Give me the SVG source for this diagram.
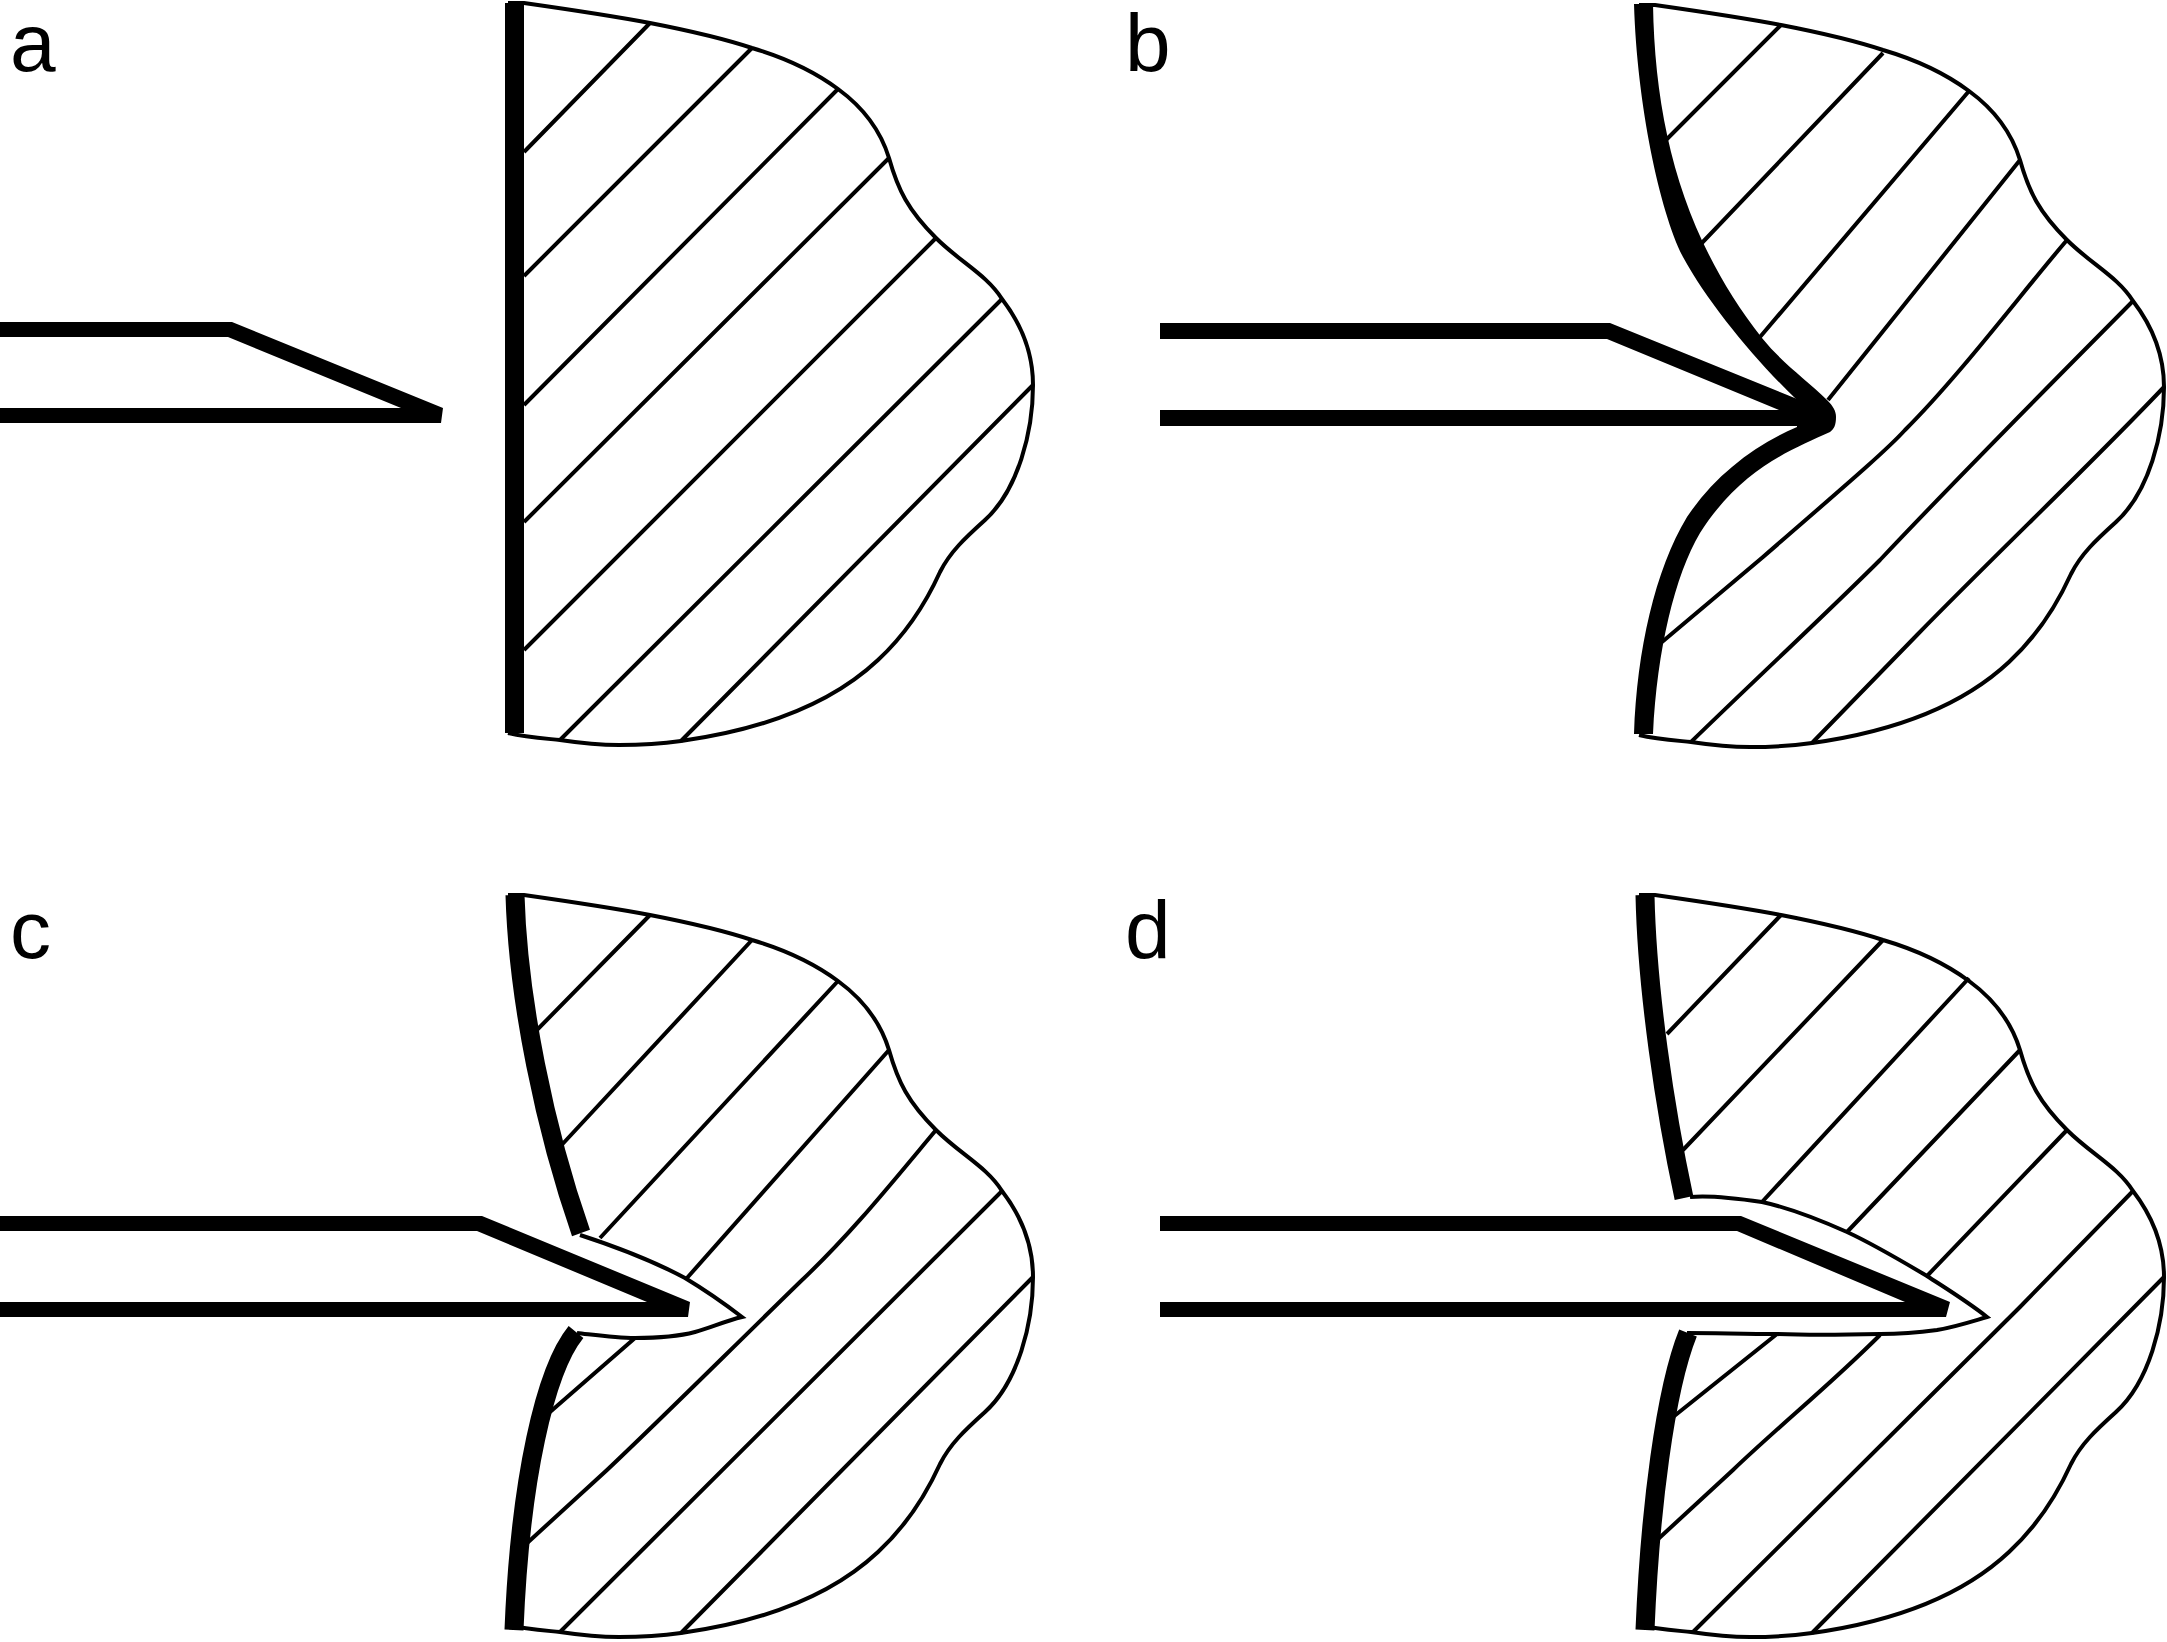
<svg xmlns="http://www.w3.org/2000/svg" width="2167" height="1642" viewBox="0 0 2167 1642">
<style>
.t{font-family:"Liberation Sans",Arial,sans-serif;font-size:82px;fill:#000}
.thin{fill:none;stroke:#000;stroke-width:4}
.wall{fill:none;stroke:#000;stroke-width:19}
.solid{fill:#000;stroke:none}
</style>
<defs>
<path id="outline" class="thin" d="M508,3 L524,3 C566,9 608,15 650,23 C686,30 722,38 752,48 C786,58 815,72 838,89 C864,108 881,132 889,158 C898,190 908,210 936,238 C960,262 987,275 1002,299 C1022,325 1033,355 1033,385 C1033,432 1018,490 985,520 C965,538 950,552 940,572 C925,605 905,635 878,660 C830,705 760,730 681,741 C660,744 640,745 619,745 C600,745 580,743 560,740 C540,738 525,737 508,733"/>
</defs>
<rect width="2167" height="1642" fill="#fff"/>
<g id="panel-a">
<text class="t" x="10" y="71">a</text>
<use href="#outline"/>
<rect class="solid" x="505" y="3" width="19" height="730"/>
<path class="thin" d="M524,152 L650,23 M524,276 L752,48 M524,405 L838,89 M524,522 L889,158 M524,650 L936,238 M560,740 L1002,299 M681,741 L1033,385"/>
<polygon class="solid" points="0,322 232,322 443,408 441,423 0,423 0,408 401,408 228,337 0,337"/>
</g>
<g id="panel-b">
<text class="t" x="1125" y="71">b</text>
<use href="#outline" transform="translate(1131,2)"/>
<path class="thin" d="M1665,141 L1781,25 M1699,246 L1883,53 M1760,337 L1969,91 M1828,400 L2020,160 M2067,240 C2020,295 1960,375 1905,430 C1885,452 1840,490 1763,557 L1662,642 M2133,301 C2040,395 1960,475 1880,560 C1830,610 1760,675 1691,742 M2164,387 C2090,465 2000,550 1917,635 L1812,743"/>
<path class="solid" d="M1653,4 C1655,130 1685,240 1762,338 C1784,365 1806,379 1827,400 C1833,406 1836,411 1836,417 C1836,425 1834,429 1830,432 C1790,450 1740,470 1700,533 C1675,575 1657,650 1653,734 L1634,734 C1637,650 1655,570 1687,517 C1715,475 1755,445 1797,427 L1797,400 C1755,360 1708,303 1683,257 C1660,212 1637,105 1634,4 Z"/>
<polygon class="solid" points="1160,323 1610,323 1812,405 1812,426 1160,426 1160,410 1779,410 1607,339 1160,339"/>
</g>
<g id="panel-c">
<text class="t" x="10" y="958">c</text>
<use href="#outline" transform="translate(0,892)"/>
<path class="wall" d="M515,895 C518,1000 545,1130 581,1233"/>
<path class="wall" d="M576,1332 C545,1370 520,1480 514,1630"/>
<path class="thin" d="M580,1235 C620,1248 655,1262 685,1278 C705,1290 725,1304 742,1317 C725,1321 710,1328 695,1332 C680,1336 660,1338 635,1338 C615,1338 595,1335 577,1333"/>
<path class="thin" d="M533,1034 L650,915 M557,1150 L752,940 M600,1238 L838,981 M687,1278 L889,1050 M550,1412 L635,1338 M936,1130 C890,1185 850,1235 800,1282 C720,1360 660,1420 607,1470 L525,1545 M1002,1191 L560,1632 M1033,1277 L681,1633"/>
<polygon class="solid" points="0,1216 482,1216 690,1302 688,1317 0,1317 0,1302 647,1302 477,1231 0,1231"/>
</g>
<g id="panel-d">
<text class="t" x="1125" y="958">d</text>
<use href="#outline" transform="translate(1131,892)"/>
<path class="wall" d="M1645,895 C1647,990 1665,1110 1684,1198"/>
<path class="wall" d="M1688,1333 C1665,1390 1650,1510 1645,1630"/>
<path class="thin" d="M1690,1197 C1710,1195 1735,1198 1762,1202 C1790,1208 1820,1220 1847,1232 C1875,1245 1900,1260 1927,1276 C1950,1291 1968,1302 1987,1317 C1970,1322 1955,1327 1937,1330 C1915,1333 1895,1334 1880,1334 C1840,1335 1800,1335 1777,1334 C1745,1334 1715,1333 1687,1333"/>
<path class="thin" d="M1667,1034 L1781,915 M1683,1150 L1883,940 M1762,1202 L1969,978 M1847,1232 L2020,1050 M1927,1276 L2067,1130 M1777,1334 L1673,1417 M1880,1335 C1830,1385 1780,1425 1733,1470 L1656,1541 M2133,1191 L2020,1307 L1693,1632 M2164,1277 L1812,1633"/>
<polygon class="solid" points="1160,1216 1741,1216 1950,1302 1946,1317 1160,1317 1160,1302 1905,1302 1737,1231 1160,1231"/>
</g>
</svg>
